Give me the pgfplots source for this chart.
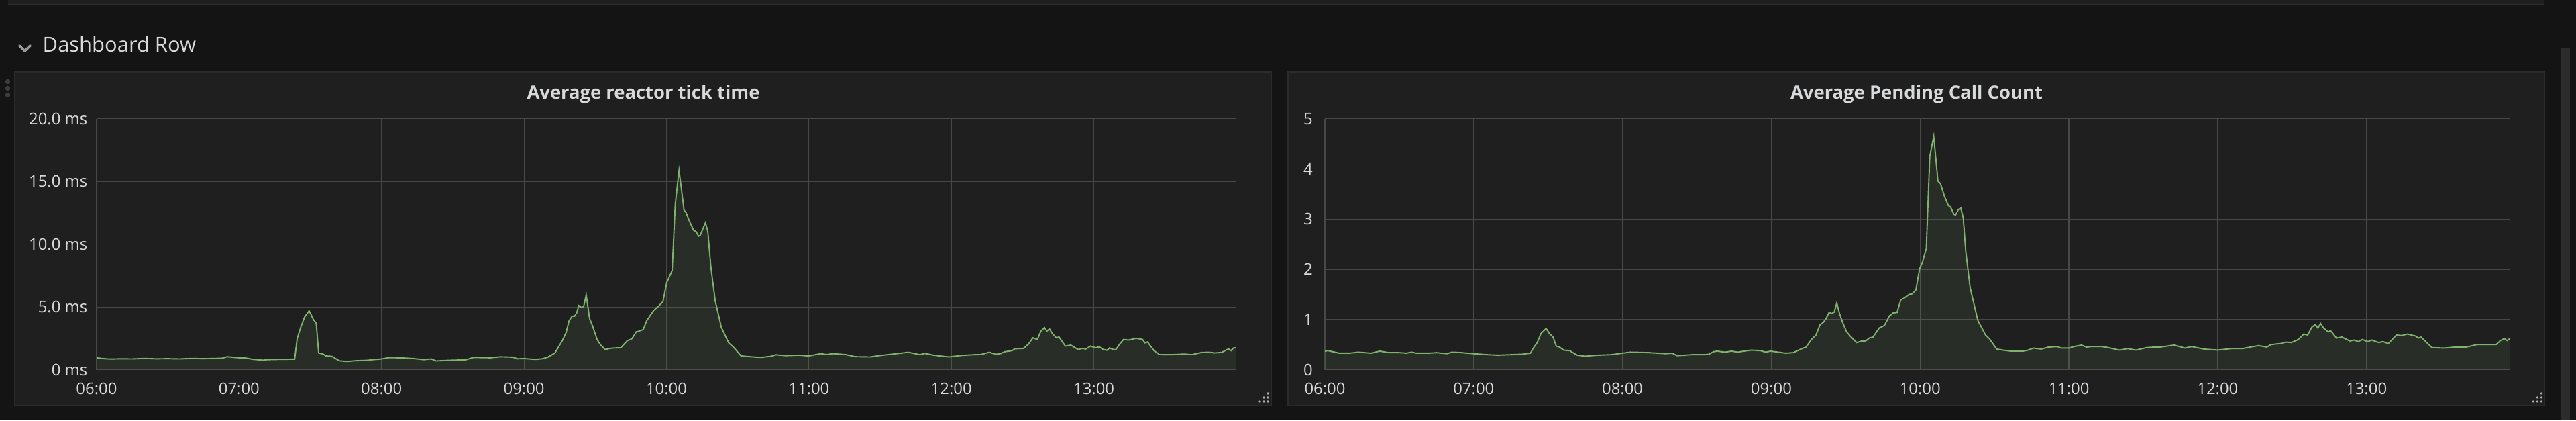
\documentclass[border=0pt]{standalone}
\usepackage{fontspec}
\setmainfont{Open Sans}
\usepackage{pgfplots}
\usepackage{pgfplotstable}
\pgfplotsset{compat=1.18}
\definecolor{pagebg}{HTML}{141414}
\definecolor{panelbg}{HTML}{1F1F20}
\definecolor{panelborder}{HTML}{2B2B2C}
\definecolor{gridc}{HTML}{484848}
\definecolor{txt}{HTML}{D8D9DA}
\definecolor{lgreen}{HTML}{7EB26D}
\definecolor{handle}{HTML}{3C3C3C}
\definecolor{scrollc}{HTML}{2C2C2C}

\pgfplotstableread{
x y
0 0.95
3 0.88
6 0.85
10 0.87
15 0.86
20 0.90
25 0.87
30 0.88
35 0.86
40 0.90
45 0.88
50 0.90
53 0.92
55 1.04
58 0.98
60 0.95
63 0.93
66 0.82
70 0.76
72 0.80
76 0.82
80 0.83
82.4 0.84
83.4 0.84
84.5 2.5
86 3.4
87.6 4.2
89.5 4.7
91.3 4.0
92.5 3.7
93.5 1.34
95.4 1.25
96.5 1.10
99.1 1.07
102.2 0.71
105.4 0.66
108.5 0.71
113.7 0.75
120 0.86
123.1 0.96
128 0.95
133.6 0.89
137.8 0.80
140.9 0.86
143 0.70
148 0.75
155.5 0.79
158.7 0.98
162.6 0.96
166 0.95
170 1.03
175.2 1.00
177.3 0.87
180 0.89
184.6 0.82
187.7 0.87
190 1.00
193 1.33
196.1 2.31
197.7 2.94
199 3.91
200.3 4.27
201.3 4.27
202.2 4.54
203.1 5.11
204.2 4.95
205.1 5.02
206.2 5.96
207.6 4.09
208.9 3.47
210.8 2.40
212.3 1.96
214.2 1.60
216 1.69
218.1 1.73
220.7 1.74
223.5 2.31
225.4 2.46
227.3 3.02
228.3 3.06
230.2 3.20
231.7 3.91
234.6 4.72
236.7 5.07
238.5 5.43
240.1 6.94
242.4 7.92
243.7 13.17
245.3 15.89
247.4 12.72
248.2 12.54
249.5 11.92
251.4 11.12
252.5 11.00
253.5 10.64
254.2 10.71
256.4 11.71
257.4 11.03
258.7 8.19
260.5 5.52
263.1 3.38
266.2 2.14
268.3 1.78
271.4 1.10
275.6 1.03
279.8 0.98
284 1.07
286.1 1.19
290.3 1.12
295.5 1.16
300 1.10
304.9 1.28
307.5 1.21
310.1 1.28
315.4 1.21
319.5 1.04
325.9 1.02
330.2 1.14
335.5 1.25
341.9 1.39
346.7 1.20
348.8 1.30
352.5 1.16
358.9 1.02
364.3 1.14
369.6 1.20
372.3 1.21
376 1.39
378.6 1.23
380.8 1.29
382.4 1.43
385.6 1.52
386.6 1.66
390.4 1.70
392.5 2.05
394.3 2.54
396.2 2.41
397.6 3.04
399.2 3.36
400.2 3.07
401.3 3.25
402.6 2.86
404.2 2.54
405.3 2.61
408 1.88
410.3 1.96
413.3 1.61
415.4 1.70
416.5 1.64
418.6 1.88
420.7 1.75
422.3 1.82
423.9 1.61
425.5 1.55
426.6 1.73
428.2 1.61
429.3 1.61
430.9 2.05
432.5 2.41
434.6 2.36
437.8 2.50
440.5 2.41
441.5 2.14
442.6 2.21
445.3 1.52
447.6 1.21
452.7 1.20
458.1 1.25
461.2 1.20
465.5 1.38
468.7 1.39
470.8 1.34
473.8 1.38
476.7 1.66
477.8 1.52
478.8 1.73
480 1.75
}\tickdata

\pgfplotstableread{
x y
0 0.37
1.2 0.38
3 0.36
5.8 0.33
10 0.33
13.5 0.35
18.6 0.33
22.1 0.37
25.7 0.34
30 0.34
32.9 0.33
34.9 0.35
36.9 0.33
42 0.33
45 0.34
49.2 0.32
51.2 0.35
55.3 0.34
59.7 0.32
65.5 0.30
69.6 0.29
75 0.30
79.8 0.31
82.9 0.33
83.9 0.42
85.6 0.54
87.1 0.72
89.2 0.82
90.7 0.71
92 0.65
93.3 0.47
94.6 0.45
96.3 0.39
98.7 0.38
101.7 0.29
104.8 0.27
107.3 0.28
110.4 0.29
115.5 0.30
120 0.33
123.2 0.35
130.8 0.34
137.4 0.32
140 0.33
142 0.28
145.1 0.29
148.2 0.30
153.2 0.30
154.8 0.31
156.8 0.36
158.2 0.37
161.3 0.35
164 0.37
166.4 0.35
169 0.37
172 0.39
175.6 0.38
177.7 0.35
179.7 0.37
182.8 0.35
185.8 0.33
188.9 0.34
191.9 0.41
194 0.45
196 0.59
198 0.69
199.6 0.89
201.1 0.95
202.1 1.02
203.3 1.14
204.4 1.12
205.4 1.15
206.4 1.33
207.5 1.12
208.7 0.95
210.3 0.76
211.8 0.67
214.4 0.54
216.4 0.57
218 0.57
219.5 0.63
221 0.65
223.5 0.83
225.6 0.88
227.6 1.07
229.1 1.13
230.7 1.14
232.2 1.39
233.7 1.43
235.6 1.50
236.8 1.51
238.3 1.59
239.8 2.01
240.9 2.14
242.5 2.41
243.9 4.24
245.5 4.65
247.2 3.76
248.2 3.71
249.8 3.46
251.4 3.27
252.3 3.24
253.6 3.10
254.3 3.08
255.4 3.19
256.4 3.22
257.4 3.03
258.4 2.37
260.2 1.63
263.3 0.98
266.4 0.69
267.9 0.62
270.9 0.41
273.5 0.39
276.5 0.37
281.6 0.37
283.6 0.39
285.7 0.43
288.8 0.41
291.8 0.45
295.4 0.46
296.9 0.43
300 0.43
302 0.46
305.1 0.49
307.1 0.45
309 0.46
313 0.46
314.9 0.45
320.4 0.39
323.7 0.42
327 0.39
331.4 0.44
334.7 0.45
336.9 0.45
342.4 0.49
346.8 0.43
349.5 0.46
354.5 0.41
360 0.39
365.5 0.42
369.9 0.42
373.2 0.45
376.5 0.48
379.8 0.45
381.5 0.50
385.3 0.52
387.5 0.55
389.7 0.54
392.5 0.60
394.7 0.71
396.3 0.69
398 0.85
399.4 0.90
400.4 0.83
401.5 0.92
402.7 0.83
404.6 0.75
405.5 0.78
407.9 0.63
410.1 0.65
413.4 0.57
415 0.59
416.7 0.56
418.3 0.60
420.6 0.56
422.2 0.59
425 0.54
426.6 0.56
428.8 0.52
432.1 0.69
434.3 0.68
436.5 0.71
439.8 0.67
441 0.63
442 0.65
446.4 0.44
451.3 0.43
455.8 0.45
460.2 0.45
464.6 0.50
466.8 0.50
472.3 0.50
474 0.58
475.6 0.62
476.7 0.58
477.8 0.62
478.7 0.62
}\calldata

\pgfplotsset{grafana/.style={
  scale only axis,
  anchor=south west,
  height=3.738cm,
  axis x line*=bottom, axis y line*=left,
  axis line style={gridc, line width=0.35pt},
  grid=major,
  major grid style={gridc, line width=0.35pt},
  xmin=0, ymin=0,
  xtick={0,60,...,420},
  xticklabels={06:00,07:00,08:00,09:00,10:00,11:00,12:00,13:00},
  major tick length=0pt,
  tick style={draw=none},
  ticklabel style={font=\fontsize{6.8}{8}\selectfont, text=txt, inner sep=0pt},
  xticklabel style={anchor=north, yshift=-0.184cm},
}}

\begin{document}
\begin{tikzpicture}
\path[use as bounding box, fill=pagebg] (0,0) rectangle (38.4,6.26);
% top bar
\fill[panelbg] (0.12,6.26) rectangle (37.93,6.19);
\draw[panelborder, line width=0.3pt] (0.12,6.19) -- (37.93,6.19);
% row header
\draw[color=gray!80, line width=1.1pt, line cap=round, line join=round] (0.29,5.58) -- (0.37,5.50) -- (0.45,5.58);
\node[anchor=base west, inner sep=0pt, text=txt, font=\fontsize{8.8}{10}\selectfont] at (0.63,5.48) {Dashboard Row};
% drag handle
\foreach \yy in {1.18,1.28,1.38}{\fill[handle, rounded corners=0.8pt] (0.08,6.26-\yy) rectangle (0.15,6.26-\yy-0.07);}
% panels
\filldraw[fill=panelbg, draw=panelborder, line width=0.35pt] (0.22,0.22) rectangle (18.95,5.19);
\filldraw[fill=panelbg, draw=panelborder, line width=0.35pt] (19.20,0.22) rectangle (37.93,5.19);
% resize handles
\foreach \p in {(18.90,0.40),(18.84,0.34),(18.90,0.34),(18.78,0.28),(18.84,0.28),(18.90,0.28),
                (37.88,0.40),(37.82,0.34),(37.88,0.34),(37.76,0.28),(37.82,0.28),(37.88,0.28)}{\fill[gray!60] \p circle (0.018);}
% scrollbar
\fill[scrollc] (38.17,0) rectangle (38.31,5.54);
% titles
\node[anchor=base, inner sep=0pt, text=txt, font=\fontsize{7.8}{9}\selectfont\bfseries] at (9.59,4.78) {Average reactor tick time};
\node[anchor=base, inner sep=0pt, text=txt, font=\fontsize{7.8}{9}\selectfont\bfseries] at (28.57,4.78) {Average Pending Call Count};

\begin{axis}[grafana, at={(1.44cm,0.754cm)}, width=16.99cm,
  xmax=480, ymax=20,
  ytick={0,5,10,15,20},
  yticklabels={0 ms,5.0 ms,10.0 ms,15.0 ms,20.0 ms},
  yticklabel style={anchor=east, xshift=-0.13cm}]
\addplot[draw=none, fill=lgreen, fill opacity=0.1] table {\tickdata} \closedcycle;
\addplot[lgreen, line width=0.55pt] table {\tickdata};
\end{axis}

\begin{axis}[grafana, at={(19.75cm,0.754cm)}, width=17.67cm,
  xmax=478, ymax=5,
  ytick={0,1,2,3,4,5},
  yticklabels={0,1,2,3,4,5},
  yticklabel style={anchor=east, xshift=-0.175cm}]
\addplot[draw=none, fill=lgreen, fill opacity=0.1] table {\calldata} \closedcycle;
\addplot[lgreen, line width=0.55pt] table {\calldata};
\end{axis}
\end{tikzpicture}
\end{document}
